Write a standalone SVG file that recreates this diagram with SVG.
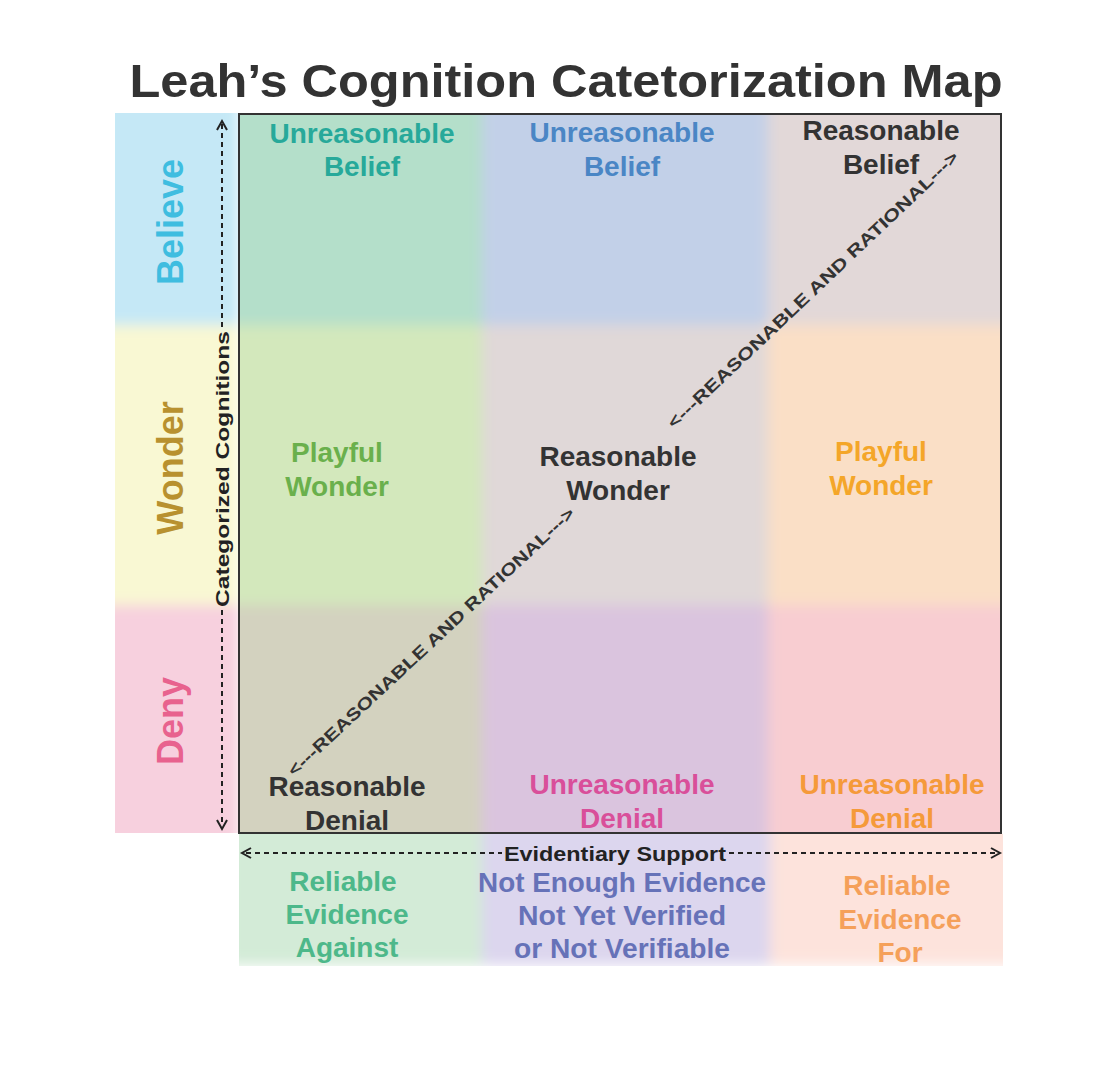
<svg xmlns="http://www.w3.org/2000/svg" width="1115" height="1078" viewBox="0 0 1115 1078">
<defs>
<filter id="soft" x="-5%" y="-5%" width="110%" height="110%"><feGaussianBlur stdDeviation="6.5"/></filter>
<clipPath id="gridClip"><rect x="239" y="114" width="762" height="719"/></clipPath>
<clipPath id="leftClip"><rect x="115" y="113" width="124" height="720"/></clipPath>
<clipPath id="botClip"><rect x="239" y="834" width="764" height="132"/></clipPath>
</defs>
<style>
text{font-family:"Liberation Sans","DejaVu Sans",sans-serif;font-weight:bold;text-anchor:middle}
.cell{font-size:28px}
.bot{font-size:28px}
.dash{fill:none;stroke:#222;stroke-width:2;stroke-dasharray:5 4}
.chev{fill:none;stroke:#222;stroke-width:2}
.side{font-size:36px}
</style>
<rect width="1115" height="1078" fill="#fff"/>
<text x="566" y="97" style="font-size:46px" fill="#333" textLength="873" lengthAdjust="spacingAndGlyphs">Leah’s Cognition Catetorization Map</text>

<g id="left-band" clip-path="url(#leftClip)">
<g filter="url(#soft)">
<rect x="100" y="90" width="139" height="235" fill="#c5e8f6"/>
<rect x="100" y="325" width="139" height="280" fill="#f9f8d3"/>
<rect x="100" y="605" width="139" height="250" fill="#f7d0de"/>
</g>
</g>

<g id="grid-bg" clip-path="url(#gridClip)">
<g filter="url(#soft)">
<rect x="220" y="95" width="262" height="230" fill="#b4dfca"/>
<rect x="482" y="95" width="286" height="230" fill="#c2d0e8"/>
<rect x="768" y="95" width="255" height="230" fill="#e2d8d8"/>
<rect x="220" y="325" width="262" height="280" fill="#d3e8bc"/>
<rect x="482" y="325" width="286" height="280" fill="#e0d8d8"/>
<rect x="768" y="325" width="255" height="280" fill="#fadfc6"/>
<rect x="220" y="605" width="262" height="250" fill="#d3d2bf"/>
<rect x="482" y="605" width="286" height="250" fill="#dac4de"/>
<rect x="768" y="605" width="255" height="250" fill="#f8cdd1"/>
</g>
</g>

<g id="bottom-band" clip-path="url(#botClip)">
<g filter="url(#soft)">
<rect x="225" y="820" width="257" height="145" fill="#d3ebd7"/>
<rect x="482" y="820" width="288" height="145" fill="#dcd6ee"/>
<rect x="770" y="820" width="250" height="145" fill="#fde3dc"/>
</g>
</g>

<rect id="frame" x="239" y="114" width="762" height="719" fill="none" stroke="#333" stroke-width="2"/>

<g id="row-labels">
<text class="side" transform="translate(183 222) rotate(-90)" fill="#3fbde0">Believe</text>
<text class="side" transform="translate(183 468) rotate(-90)" fill="#b8912f">Wonder</text>
<text class="side" transform="translate(183 721) rotate(-90)" fill="#e8628e">Deny</text>
</g>

<g id="n-unreasonable-belief-1"><text class="cell" fill="#27a99a"><tspan x="362" y="143">Unreasonable</tspan><tspan x="362" y="176">Belief</tspan></text></g>
<g id="n-unreasonable-belief-2"><text class="cell" fill="#4a86c5"><tspan x="622" y="142">Unreasonable</tspan><tspan x="622" y="176">Belief</tspan></text></g>
<g id="n-reasonable-belief"><text class="cell" fill="#333"><tspan x="881" y="140">Reasonable</tspan><tspan x="881" y="174">Belief</tspan></text></g>
<g id="n-playful-wonder-1"><text class="cell" fill="#6ab04c"><tspan x="337" y="462">Playful</tspan><tspan x="337" y="496">Wonder</tspan></text></g>
<g id="n-reasonable-wonder"><text class="cell" fill="#333"><tspan x="618" y="466">Reasonable</tspan><tspan x="618" y="500">Wonder</tspan></text></g>
<g id="n-playful-wonder-2"><text class="cell" fill="#f4a629"><tspan x="881" y="461">Playful</tspan><tspan x="881" y="495">Wonder</tspan></text></g>
<g id="n-reasonable-denial"><text class="cell" fill="#333"><tspan x="347" y="796">Reasonable</tspan><tspan x="347" y="830">Denial</tspan></text></g>
<g id="n-unreasonable-denial-1"><text class="cell" fill="#d94f9a"><tspan x="622" y="794">Unreasonable</tspan><tspan x="622" y="828">Denial</tspan></text></g>
<g id="n-unreasonable-denial-2"><text class="cell" fill="#f59a3a"><tspan x="892" y="794">Unreasonable</tspan><tspan x="892" y="828">Denial</tspan></text></g>

<g id="n-evidence-against"><text class="bot" fill="#4db88a"><tspan x="343" y="891">Reliable</tspan><tspan x="347" y="924">Evidence</tspan><tspan x="347" y="957">Against</tspan></text></g>
<g id="n-not-enough"><text class="bot" fill="#6672b8"><tspan x="622" y="892" textLength="288" lengthAdjust="spacingAndGlyphs">Not Enough Evidence</tspan><tspan x="622" y="925" textLength="208" lengthAdjust="spacingAndGlyphs">Not Yet Verified</tspan><tspan x="622" y="958" textLength="216" lengthAdjust="spacingAndGlyphs">or Not Verifiable</tspan></text></g>
<g id="n-evidence-for"><text class="bot" fill="#f5a05a"><tspan x="897" y="895">Reliable</tspan><tspan x="900" y="929">Evidence</tspan><tspan x="900" y="962">For</tspan></text></g>

<g id="connectors">
<line class="dash" x1="222" y1="124" x2="222" y2="328"/>
<line class="dash" x1="222" y1="610" x2="222" y2="826"/>
<polyline class="chev" points="217,130 222,121 227,130"/>
<polyline class="chev" points="217,820 222,829 227,820"/>
<text transform="translate(229 469) rotate(-90)" style="font-size:19px" fill="#222" textLength="276" lengthAdjust="spacingAndGlyphs">Categorized Cognitions</text>

<line class="dash" x1="246" y1="853" x2="502" y2="853"/>
<line class="dash" x1="729" y1="853" x2="996" y2="853"/>
<polyline class="chev" points="251,848 242,853 251,858"/>
<polyline class="chev" points="991,848 1000,853 991,858"/>
<text x="615" y="861" style="font-size:20px" fill="#222" textLength="222" lengthAdjust="spacingAndGlyphs">Evidentiary Support</text>

<text transform="translate(435 646) rotate(-43)" style="font-size:17px" fill="#333" textLength="385" lengthAdjust="spacingAndGlyphs">&lt;---REASONABLE AND  RATIONAL---&gt;</text>
<text transform="translate(817 294) rotate(-43.5)" style="font-size:17px" fill="#333" textLength="394" lengthAdjust="spacingAndGlyphs">&lt;---REASONABLE AND  RATIONAL---&gt;</text>
</g>
</svg>
